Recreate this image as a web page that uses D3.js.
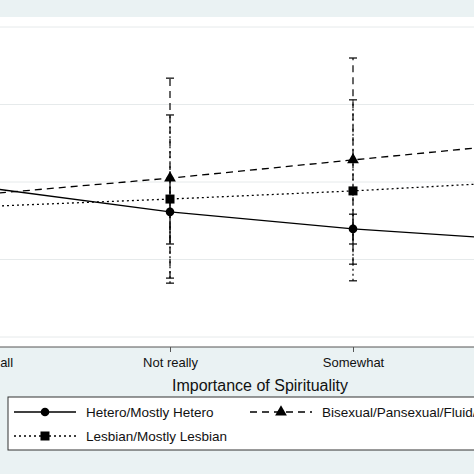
<!DOCTYPE html>
<meta charset="utf-8">
<head>
  <script src="https://d3js.org/d3.v7.min.js"></script>
  <style>
    body { margin: 0; background: #eaf2f3; }
    text { font-family: "Liberation Sans", Arial, sans-serif; fill: #111; }
  </style>
</head>
<body>
<div id="chart"></div>
<script>
// categories and predicted values
var categories = ["Not at all", "Not really", "Somewhat", "Very"];
var hetero   = [0.385, 0.323, 0.279, 0.248];
var bisexual = [0.369, 0.410, 0.457, 0.503];
var lesbian  = [0.337, 0.356, 0.377, 0.403];
// confidence intervals (only the middle categories are visible)
var ciHetero   = [null, [0.240, 0.405], [0.240, 0.317], null];
var ciBisexual = [null, [0.152, 0.668], [0.188, 0.720], null];
var ciLesbian  = [null, [0.139, 0.573], [0.145, 0.612], null];
var gridValues = [0, 0.2, 0.4, 0.6, 0.8];

var W = 474, H = 474;
var svg = d3.select("#chart").append("svg")
  .attr("width", W).attr("height", H);

// graph region
svg.append("rect").attr("x", 0).attr("y", 17).attr("width", W).attr("height", 330)
  .attr("fill", "white");

var x = d3.scalePoint().domain(categories).range([-13, 536]);
var y = d3.scaleLinear().domain([0, 0.8]).range([337, 27]);

// gridlines
svg.selectAll(".grid").data(gridValues).enter().append("line")
  .attr("x1", 0).attr("x2", W)
  .attr("y1", function(d) { return y(d); })
  .attr("y2", function(d) { return y(d); })
  .attr("stroke", "#e6eaeb").attr("stroke-width", 1);

// x axis
var xAxis = svg.append("g").attr("transform", "translate(0,347)")
  .call(d3.axisBottom(x).tickSize(5).tickPadding(6));
xAxis.select(".domain").attr("stroke", "#555").attr("d", "M0,0H" + W);
xAxis.selectAll(".tick line").attr("stroke", "#555");
xAxis.selectAll("text").attr("font-size", 13).attr("fill", "#111")
  .style("font-family", "Liberation Sans, Arial, sans-serif");

svg.append("text").attr("x", 260).attr("y", 391).attr("text-anchor", "middle")
  .attr("font-size", 16).text("Importance of Spirituality");

var series = [
  { vals: hetero, ci: ciHetero, dash: null, marker: "circle" },
  { vals: bisexual, ci: ciBisexual, dash: "7,5", marker: "triangle" },
  { vals: lesbian, ci: ciLesbian, dash: "2,3", marker: "square" }
];

var line = d3.line()
  .x(function(d, i) { return x(categories[i]); })
  .y(function(d) { return y(d); });

function drawMarker(g, type, cx, cy) {
  if (type === "circle") {
    g.append("circle").attr("cx", cx).attr("cy", cy).attr("r", 4.3).attr("fill", "#000");
  } else if (type === "square") {
    g.append("rect").attr("x", cx - 4.5).attr("y", cy - 4.5).attr("width", 9).attr("height", 9).attr("fill", "#000");
  } else {
    g.append("path").attr("d", d3.symbol().type(d3.symbolTriangle).size(60)())
      .attr("transform", "translate(" + cx + "," + cy + ")").attr("fill", "#000");
  }
}

series.forEach(function(s) {
  var g = svg.append("g");
  // CIs
  s.ci.forEach(function(c, i) {
    if (!c) return;
    var cx = x(categories[i]);
    g.append("line").attr("x1", cx).attr("x2", cx)
      .attr("y1", y(c[0])).attr("y2", y(c[1]))
      .attr("stroke", "#000").attr("stroke-width", 1.2)
      .attr("stroke-dasharray", s.dash);
    c.forEach(function(v) {
      g.append("line").attr("x1", cx - 4).attr("x2", cx + 4)
        .attr("y1", y(v)).attr("y2", y(v))
        .attr("stroke", "#000").attr("stroke-width", 1.2);
    });
  });
  g.append("path").datum(s.vals).attr("d", line)
    .attr("fill", "none").attr("stroke", "#000").attr("stroke-width", 1.3)
    .attr("stroke-dasharray", s.dash);
});
series.forEach(function(s) {
  var g = svg.append("g");
  s.vals.forEach(function(v, i) { drawMarker(g, s.marker, x(categories[i]), y(v)); });
});

// legend
svg.append("rect").attr("x", 8).attr("y", 397).attr("width", 480).attr("height", 53)
  .attr("fill", "white").attr("stroke", "#333").attr("stroke-width", 1);
var legendItems = [
  { label: "Hetero/Mostly Hetero", s: series[0], lx: 14, ly: 412 },
  { label: "Bisexual/Pansexual/Fluid/Queer", s: series[1], lx: 250, ly: 412 },
  { label: "Lesbian/Mostly Lesbian", s: series[2], lx: 14, ly: 436 }
];
legendItems.forEach(function(d) {
  svg.append("line").attr("x1", d.lx).attr("x2", d.lx + 62)
    .attr("y1", d.ly).attr("y2", d.ly)
    .attr("stroke", "#000").attr("stroke-width", 1.3)
    .attr("stroke-dasharray", d.s.dash);
  drawMarker(svg, d.s.marker, d.lx + 31, d.ly);
  svg.append("text").attr("x", d.lx + 72).attr("y", d.ly + 5)
    .attr("font-size", 13.5).text(d.label);
});
</script>
</body>
